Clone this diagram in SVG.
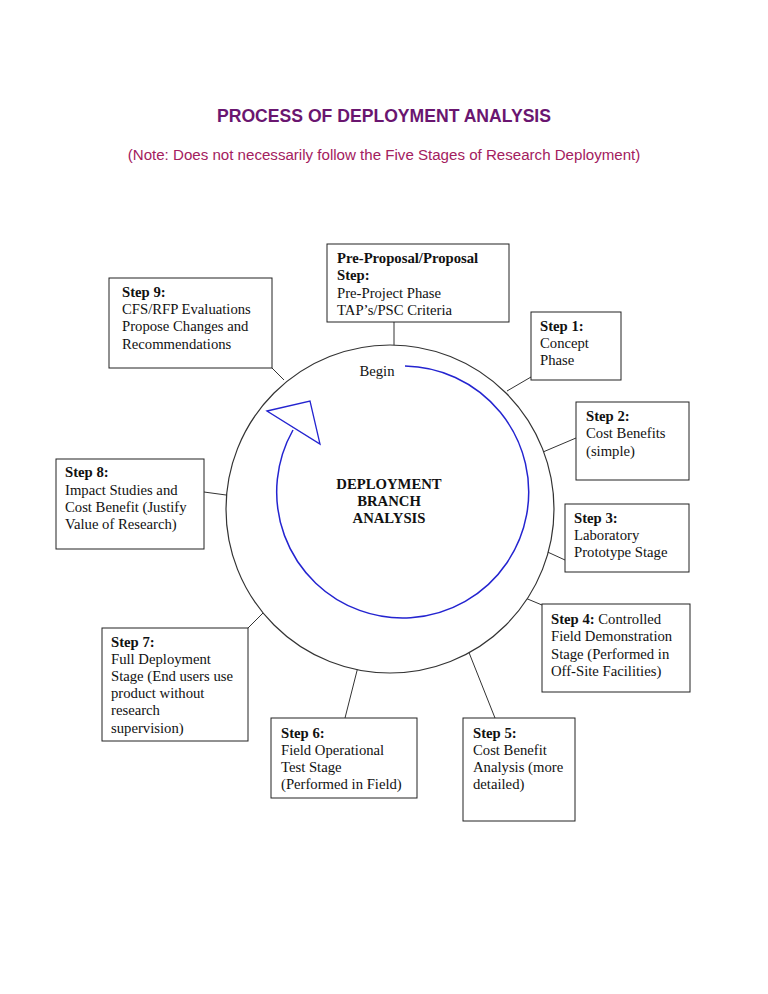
<svg xmlns="http://www.w3.org/2000/svg" width="768" height="994" viewBox="0 0 768 994">
<style>
.b{fill:#fff;stroke:#222;stroke-width:1}
.t{font-family:"Liberation Serif",serif;font-size:14.7px;fill:#111}
.h{font-weight:bold}
.c{stroke:#333;stroke-width:1;fill:none}
</style>
<rect width="768" height="994" fill="#fff"/>
<text x="384" y="122" text-anchor="middle" font-family="Liberation Sans,sans-serif" font-weight="bold" font-size="17.6" fill="#6a1670">PROCESS OF DEPLOYMENT ANALYSIS</text>
<text x="384" y="160" text-anchor="middle" font-family="Liberation Sans,sans-serif" font-size="15.1" fill="#a3205e">(Note: Does not necessarily follow the Five Stages of Research Deployment)</text>
<g id="connectors">
<line class="c" x1="394" y1="322" x2="394" y2="347"/>
<line class="c" x1="272" y1="368" x2="284" y2="380"/>
<line class="c" x1="531" y1="377" x2="507" y2="391"/>
<line class="c" x1="576" y1="438" x2="543" y2="452"/>
<line class="c" x1="204" y1="492" x2="226" y2="495"/>
<line class="c" x1="565" y1="560" x2="541" y2="549"/>
<line class="c" x1="542" y1="605" x2="518" y2="595"/>
<line class="c" x1="248" y1="628" x2="270" y2="606"/>
<line class="c" x1="345" y1="718" x2="362" y2="651"/>
<line class="c" x1="495" y1="718" x2="464" y2="640"/>
</g>
<g id="hub">
<circle cx="390" cy="509" r="164" fill="#fff" stroke="#333" stroke-width="1.2"/>
<path d="M405,366 A126,126 0 1 1 293,430" fill="none" stroke="#2424d0" stroke-width="1.5"/>
<polygon points="267,411 310,401 320,444" fill="#fff" stroke="#2424d0" stroke-width="1.3"/>
<text class="t" x="377" y="376" text-anchor="middle">Begin</text>
<text class="t h" x="389" y="489" text-anchor="middle">DEPLOYMENT</text>
<text class="t h" x="389" y="506" text-anchor="middle">BRANCH</text>
<text class="t h" x="389" y="523" text-anchor="middle">ANALYSIS</text>
</g>
<g id="pre"><rect class="b" x="327" y="244" width="182" height="78"/>
<text class="t"><tspan class="h" x="337" y="263">Pre-Proposal/Proposal</tspan><tspan class="h" x="337" y="280">Step:</tspan><tspan x="337" y="298">Pre-Project Phase</tspan><tspan x="337" y="315">TAP’s/PSC Criteria</tspan></text></g>
<g id="s9"><rect class="b" x="109" y="278" width="163" height="90"/>
<text class="t"><tspan class="h" x="122" y="297">Step 9:</tspan><tspan x="122" y="314">CFS/RFP Evaluations</tspan><tspan x="122" y="331">Propose Changes and</tspan><tspan x="122" y="349">Recommendations</tspan></text></g>
<g id="s1"><rect class="b" x="531" y="312" width="90" height="68"/>
<text class="t"><tspan class="h" x="540" y="331">Step 1:</tspan><tspan x="540" y="348">Concept</tspan><tspan x="540" y="365">Phase</tspan></text></g>
<g id="s2"><rect class="b" x="576" y="402" width="113" height="78"/>
<text class="t"><tspan class="h" x="586" y="421">Step 2:</tspan><tspan x="586" y="438">Cost Benefits</tspan><tspan x="586" y="456">(simple)</tspan></text></g>
<g id="s8"><rect class="b" x="56" y="459" width="148" height="90"/>
<text class="t"><tspan class="h" x="65" y="477">Step 8:</tspan><tspan x="65" y="495">Impact Studies and</tspan><tspan x="65" y="512">Cost Benefit (Justify</tspan><tspan x="65" y="529">Value of Research)</tspan></text></g>
<g id="s3"><rect class="b" x="565" y="504" width="124" height="68"/>
<text class="t"><tspan class="h" x="574" y="523">Step 3:</tspan><tspan x="574" y="540">Laboratory</tspan><tspan x="574" y="557">Prototype Stage</tspan></text></g>
<g id="s4"><rect class="b" x="542" y="604" width="148" height="88"/>
<text class="t"><tspan x="551" y="624"><tspan class="h">Step 4:</tspan> Controlled</tspan><tspan x="551" y="641">Field Demonstration</tspan><tspan x="551" y="659">Stage (Performed in</tspan><tspan x="551" y="676">Off-Site Facilities)</tspan></text></g>
<g id="s7"><rect class="b" x="102" y="628" width="146" height="113"/>
<text class="t"><tspan class="h" x="111" y="647">Step 7:</tspan><tspan x="111" y="664">Full Deployment</tspan><tspan x="111" y="681">Stage (End users use</tspan><tspan x="111" y="698">product without</tspan><tspan x="111" y="715">research</tspan><tspan x="111" y="733">supervision)</tspan></text></g>
<g id="s6"><rect class="b" x="271" y="718" width="146" height="80"/>
<text class="t"><tspan class="h" x="281" y="738">Step 6:</tspan><tspan x="281" y="755">Field Operational</tspan><tspan x="281" y="772">Test Stage</tspan><tspan x="281" y="789">(Performed in Field)</tspan></text></g>
<g id="s5"><rect class="b" x="463" y="718" width="112" height="103"/>
<text class="t"><tspan class="h" x="473" y="738">Step 5:</tspan><tspan x="473" y="755">Cost Benefit</tspan><tspan x="473" y="772">Analysis (more</tspan><tspan x="473" y="789">detailed)</tspan></text></g>
</svg>
